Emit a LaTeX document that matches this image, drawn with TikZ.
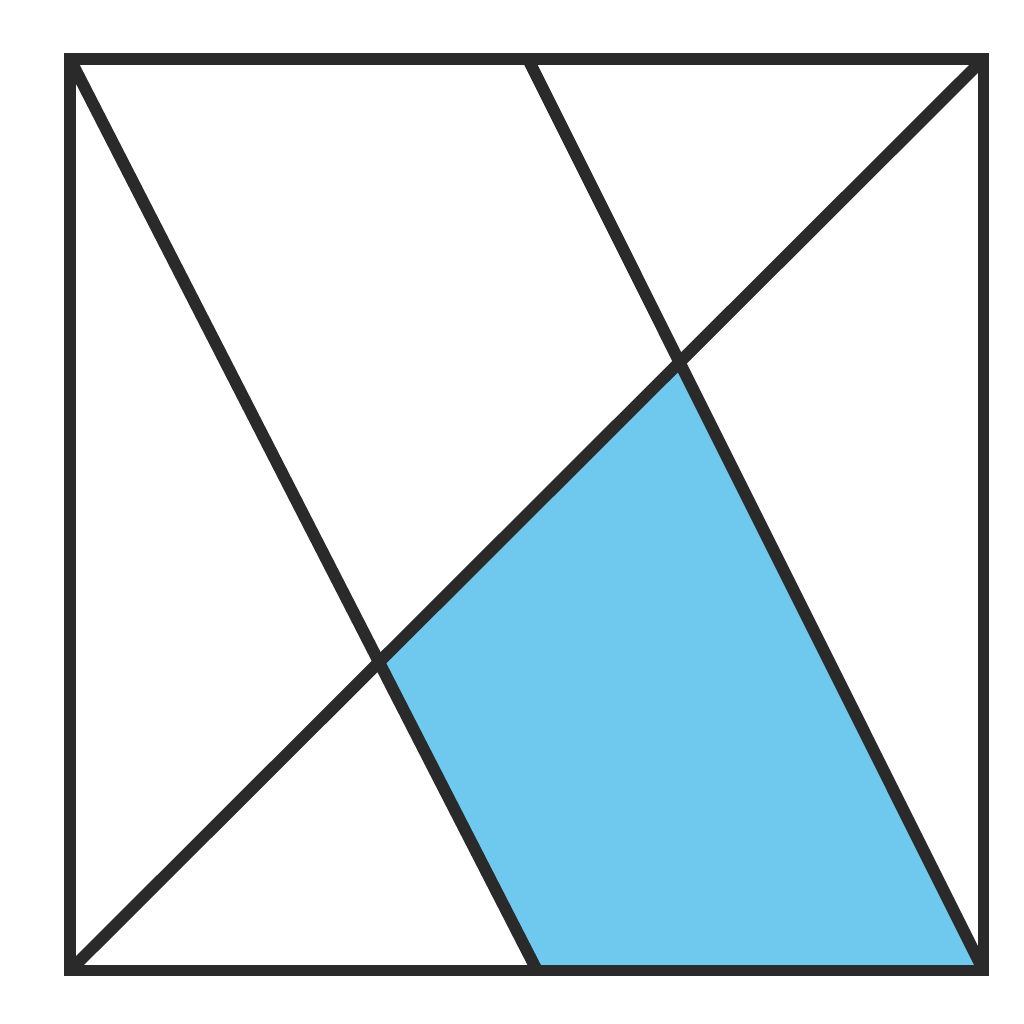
\documentclass[tikz,border=0pt]{standalone}
\usepackage{tikz}
\usetikzlibrary{calc}
\definecolor{skyblue}{HTML}{6FC8EE}
\definecolor{ink}{HTML}{2A2A2A}

\begin{document}
\begin{tikzpicture}[
edge/.style={
	draw=ink,
	line width=3.4pt,
	line join=miter
},
shade/.style={
	fill=skyblue
}
]
\useasboundingbox (0,0) rectangle (10.24,10.24);

% corners of the square
\coordinate (bl) at (0.70,0.535);
\coordinate (br) at (9.835,0.535);
\coordinate (tr) at (9.835,9.65);
\coordinate (tl) at (0.70,9.65);

% ends of the two slanted lines
\coordinate (tm) at (5.28,9.65);
\coordinate (bm) at (5.37,0.535);

% crossings with the diagonal
\coordinate (p) at (intersection of bl--tr and tl--bm);
\coordinate (q) at (intersection of bl--tr and tm--br);

\fill[shade] (p) -- (q) -- (br) -- (bm) -- cycle;

\draw[edge] (bl) -- (tr);
\draw[edge] (tl) -- (bm);
\draw[edge] (tm) -- (br);
\draw[edge] (bl) rectangle (tr);

\end{tikzpicture}
\end{document}
